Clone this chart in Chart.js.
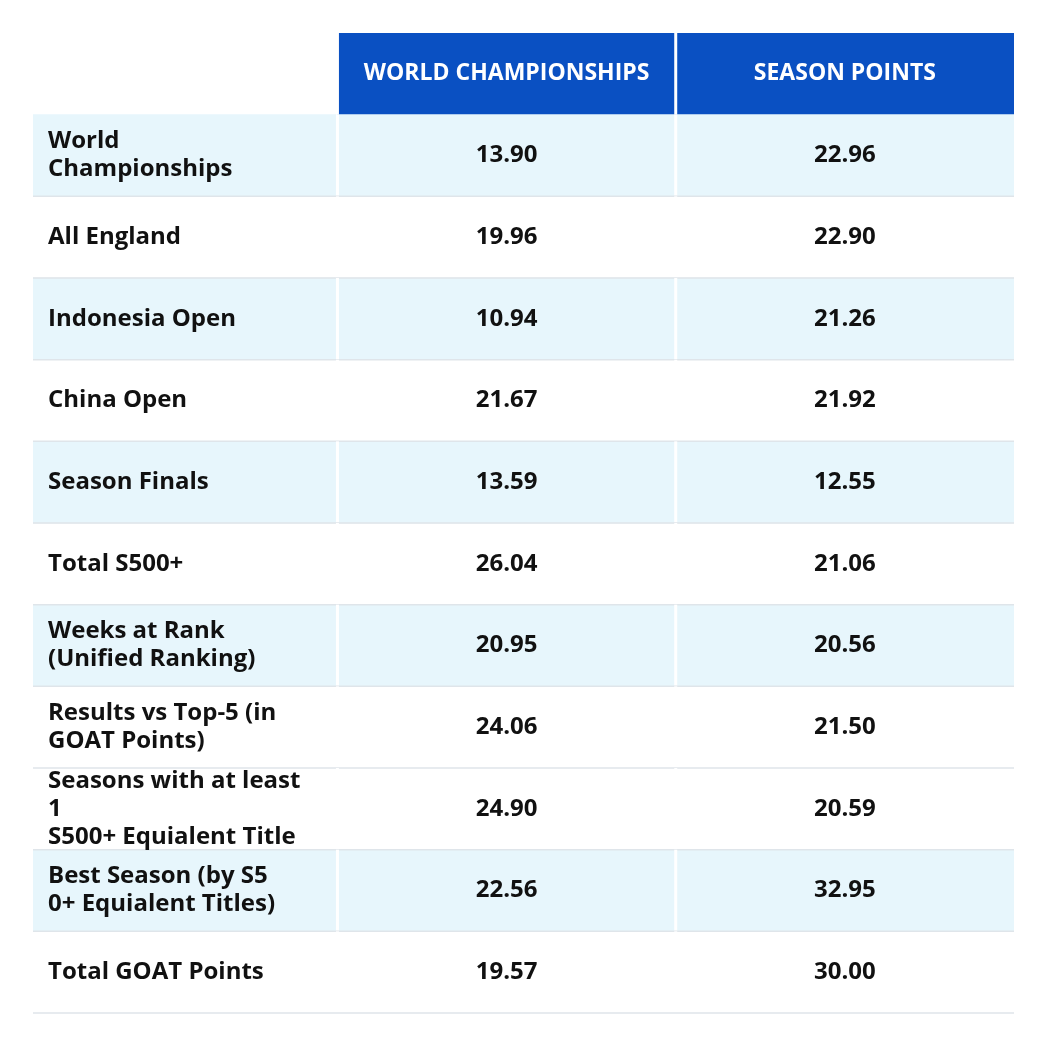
<!DOCTYPE html>
<html>
<head>
<meta charset="utf-8">
<script src="https://cdn.jsdelivr.net/npm/chart.js@4.4.0/dist/chart.umd.min.js"></script>
<style>
  html, body { margin: 0; padding: 0; background: #fff; }
  #wrap { width: 1048px; height: 1048px; }
</style>
</head>
<body>
<div id="wrap"><canvas id="tableChart"></canvas></div>
<script>
// Table content
const columnHeaders = ['WORLD CHAMPIONSHIPS', 'SEASON POINTS'];
const rowLabels = [
  ['World', 'Championships'],
  ['All England'],
  ['Indonesia Open'],
  ['China Open'],
  ['Season Finals'],
  ['Total S500+'],
  ['Weeks at Rank', '(Unified Ranking)'],
  ['Results vs Top-5 (in', 'GOAT Points)'],
  ['Seasons with at least', '1', 'S500+ Equialent Title'],
  ['Best Season (by S5', '0+ Equialent Titles)'],
  ['Total GOAT Points']
];
const worldChampionships = ['13.90', '19.96', '10.94', '21.67', '13.59', '26.04', '20.95', '24.06', '24.90', '22.56', '19.57'];
const seasonPoints = ['22.96', '22.90', '21.26', '21.92', '12.55', '21.06', '20.56', '21.50', '20.59', '32.95', '30.00'];
const shadedRows = [true, false, true, false, true, false, true, false, false, true, false];

const categories = ['header'].concat(rowLabels.map((r, i) => 'row' + i));
const X_MIN = -0.9, X_MAX = 2;
const stripeValues = categories.map((c, i) => (i > 0 && shadedRows[i - 1]) ? [X_MIN, X_MAX] : null);
const headerCol1 = categories.map((c, i) => i === 0 ? [0, 1] : null);
const headerCol2 = categories.map((c, i) => i === 0 ? [1, 2] : null);

const BLUE = '#0a50c2';
const STRIPE = '#e7f6fc';

const tableText = {
  id: 'tableText',
  afterDatasetsDraw(chart) {
    const ctx = chart.ctx;
    const x = chart.scales.x;
    const y = chart.scales.y;
    const rowH = y.getPixelForValue(1) - y.getPixelForValue(0);
    ctx.save();
    categories.forEach((c, i) => {
      const cy = y.getPixelForValue(i);
      const top = cy - rowH / 2, bottom = cy + rowH / 2;
      ctx.strokeStyle = '#ffffff';
      ctx.lineWidth = 3;
      [0, 1].forEach(v => {
        const px = x.getPixelForValue(v);
        ctx.beginPath(); ctx.moveTo(px, top); ctx.lineTo(px, bottom); ctx.stroke();
      });
      if (i > 0) {
        ctx.strokeStyle = '#dfe5ea';
        ctx.lineWidth = 1.5;
        ctx.beginPath(); ctx.moveTo(x.left, bottom); ctx.lineTo(x.right, bottom); ctx.stroke();
      }
    });
    ctx.fillStyle = '#ffffff';
    ctx.font = 'bold 23px "Open Sans", sans-serif';
    ctx.textAlign = 'center';
    ctx.textBaseline = 'middle';
    columnHeaders.forEach((h, j) => {
      ctx.fillText(h, x.getPixelForValue(j + 0.5), y.getPixelForValue(0));
    });
    ctx.fillStyle = '#111111';
    rowLabels.forEach((lines, i) => {
      const cy = y.getPixelForValue(i + 1);
      ctx.font = 'bold 24px "Open Sans", sans-serif';
      ctx.textAlign = 'left';
      const lh = 28;
      const start = cy - (lines.length - 1) * lh / 2;
      lines.forEach((ln, k) => ctx.fillText(ln, x.left + 15, start + k * lh));
      ctx.textAlign = 'center';
      ctx.fillText(worldChampionships[i], x.getPixelForValue(0.5), cy);
      ctx.fillText(seasonPoints[i], x.getPixelForValue(1.5), cy);
    });
    ctx.restore();
  }
};

new Chart(document.getElementById('tableChart').getContext('2d'), {
  type: 'bar',
  data: {
    labels: categories,
    datasets: [
      { data: stripeValues, backgroundColor: STRIPE, grouped: false },
      { data: headerCol1, backgroundColor: BLUE, grouped: false },
      { data: headerCol2, backgroundColor: BLUE, grouped: false }
    ]
  },
  options: {
    indexAxis: 'y',
    responsive: true,
    maintainAspectRatio: false,
    animation: false,
    barPercentage: 1,
    categoryPercentage: 1,
    layout: { padding: { left: 33, right: 34, top: 33, bottom: 35 } },
    plugins: { legend: { display: false }, tooltip: { enabled: false } },
    scales: {
      x: { min: X_MIN, max: X_MAX, display: false },
      y: { display: false }
    }
  },
  plugins: [tableText]
});
</script>
</body>
</html>
